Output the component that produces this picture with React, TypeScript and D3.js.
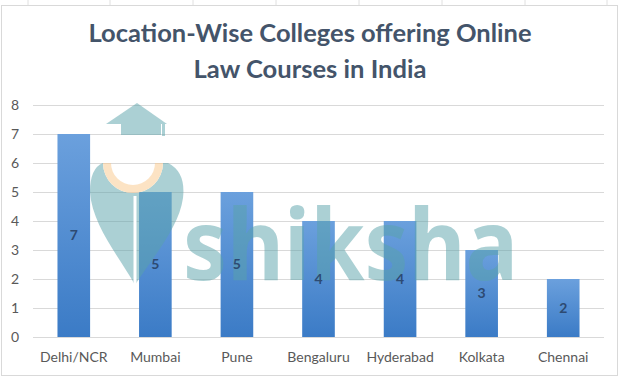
import React from "react";
import * as d3 from "d3";

const categories = ["Delhi/NCR", "Mumbai", "Pune", "Bengaluru", "Hyderabad", "Kolkata", "Chennai"];
const values = [7, 5, 5, 4, 4, 3, 2];
const yTicks = [0, 1, 2, 3, 4, 5, 6, 7, 8];
const titleLines = ["Location-Wise Colleges offering Online", "Law Courses in India"];
const watermarkText = "shiksha";

const W = 623;
const H = 384;

export default function App() {
  const x = d3.scaleBand<string>().domain(categories).range([33, 604]).paddingInner(0.6).paddingOuter(0.3);
  const y = d3.scaleLinear().domain([0, 8]).range([337, 105]);
  const font = "Lato, 'Open Sans', sans-serif";

  return (
    <svg width={W} height={H} style={{ position: "absolute", left: 0, top: 0, background: "#fff" }}>
      <defs>
        <linearGradient id="barGrad" x1="0" y1="0" x2="0" y2="1">
          <stop offset="0%" stopColor="#6ba0dd" />
          <stop offset="100%" stopColor="#3b7bc6" />
        </linearGradient>
      </defs>
      <rect x={0} y={0} width={W} height={H} fill="#fff" />
      {/* spreadsheet cell lines above chart */}
      {[28, 110, 193, 276, 359, 442, 525, 607].map((gx) => (
        <line key={gx} x1={gx} x2={gx} y1={0} y2={5} stroke="#e0e0e0" />
      ))}
      <rect x={1.5} y={5.5} width={616} height={370} fill="#fff" stroke="#d9d9d9" />

      {/* title */}
      <text x={310} y={42} textAnchor="middle" fontFamily={font} fontWeight={700} fontSize={24} fill="#44546a" textLength={443} lengthAdjust="spacingAndGlyphs">
        {titleLines[0]}
      </text>
      <text x={310} y={78} textAnchor="middle" fontFamily={font} fontWeight={700} fontSize={24} fill="#44546a" textLength={233} lengthAdjust="spacingAndGlyphs">
        {titleLines[1]}
      </text>

      {/* gridlines */}
      {yTicks.map((t) => (
        <line key={t} x1={33} x2={604} y1={y(t) + 0.5} y2={y(t) + 0.5} stroke="#d9d9d9" />
      ))}
      {yTicks.map((t) => (
        <text key={"l" + t} x={19} y={y(t)} dy="0.35em" textAnchor="end" fontFamily={font} fontSize={14} fill="#595959">
          {t}
        </text>
      ))}

      {/* bars */}
      {categories.map((c, i) => (
        <rect key={c} x={x(c)} y={y(values[i])} width={x.bandwidth()} height={y(0) - y(values[i])} fill="url(#barGrad)" />
      ))}

      {/* watermark */}
      <g opacity={0.5}>
        <polygon points="137,103 106,124 167,124" fill="#5aa3aa" />
        <rect x={121} y={123} width={40} height={12} fill="#5aa3aa" />
        <rect x={162} y={123} width={3} height={13} fill="#5aa3aa" />
        <path
          d="M103,163 A30,30 0 0 0 163,163 L168,163 Q186,172 183,198 C179,228 152,258 135,285 C120,258 92,225 90,192 Q90,168 103,163 Z"
          fill="#5aa3aa"
        />
        <path d="M103,163 A30,30 0 0 0 163,163 L155,163 A22,22 0 0 1 111,163 Z" fill="#fbc98a" />
        <text x={183} y={280} fontFamily="'Noto Sans', sans-serif" fontWeight={700} fontSize={98} fill="#5aa3aa" textLength={335} lengthAdjust="spacingAndGlyphs">
          {watermarkText}
        </text>
      </g>
      <line x1={135} x2={135} y1={196} y2={287} stroke="#fff" strokeWidth={3} />

      {/* data labels */}
      {categories.map((c, i) => (
        <text
          key={"v" + c}
          x={(x(c) as number) + x.bandwidth() / 2}
          y={(y(values[i]) + y(0)) / 2}
          dy="0.35em"
          textAnchor="middle"
          fontFamily={font}
          fontWeight={700}
          fontSize={14}
          fill="#2d4a72"
        >
          {values[i]}
        </text>
      ))}

      {/* x labels */}
      {categories.map((c) => (
        <text key={"x" + c} x={(x(c) as number) + x.bandwidth() / 2} y={362} textAnchor="middle" fontFamily={font} fontSize={14} fill="#595959">
          {c}
        </text>
      ))}
    </svg>
  );
}
